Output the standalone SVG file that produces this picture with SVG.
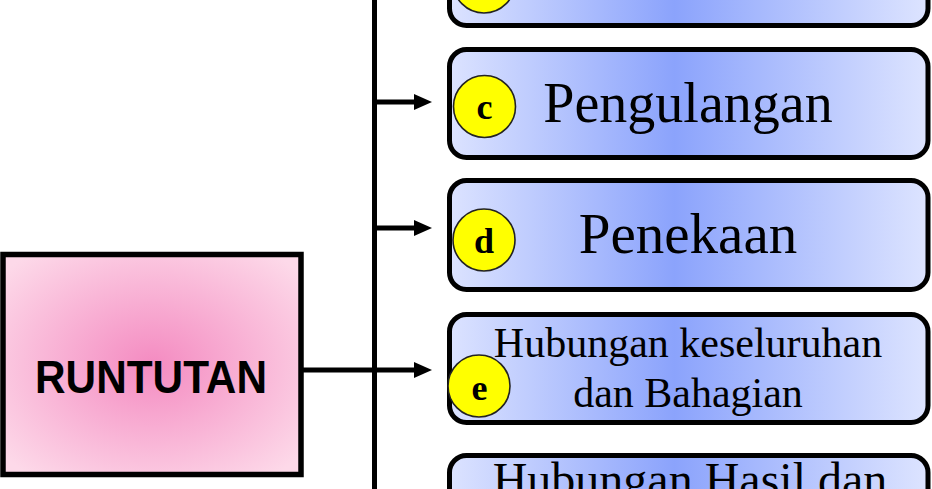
<svg xmlns="http://www.w3.org/2000/svg" width="932" height="489" viewBox="0 0 932 489">
  <defs>
    <linearGradient id="blueGrad" x1="0" y1="0" x2="1" y2="0">
      <stop offset="0" stop-color="#dce3ff"/>
      <stop offset="0.47" stop-color="#8ba3fc"/>
      <stop offset="1" stop-color="#dde4ff"/>
    </linearGradient>
    <radialGradient id="pinkGrad" cx="0.5" cy="0.5" r="0.65">
      <stop offset="0" stop-color="#f48bc1"/>
      <stop offset="1" stop-color="#fdd9e9"/>
    </radialGradient>
    <marker id="arrow" markerUnits="userSpaceOnUse" markerWidth="20" markerHeight="18" refX="6" refY="8" orient="auto">
      <path d="M0,0 L18,8 L0,16 Z" fill="#000"/>
    </marker>
  </defs>
  <style>
    .box { fill: url(#blueGrad); stroke: #000; stroke-width: 5; }
    .badge { fill: #ffff00; stroke: #222; stroke-width: 1.6; }
    .badgeText { font-family: "Liberation Serif", "DejaVu Serif", serif; font-weight: bold; font-size: 36px; text-anchor: middle; fill: #000; }
    .label { font-family: "Liberation Serif", "DejaVu Serif", serif; text-anchor: middle; fill: #000; }
    .conn { stroke: #000; stroke-width: 5; fill: none; }
  </style>
  <rect width="932" height="489" fill="#ffffff"/>

  <g id="connectors">
    <line class="conn" x1="374.5" y1="0" x2="374.5" y2="489"/>
    <line class="conn" x1="374.5" y1="102" x2="420" y2="102" marker-end="url(#arrow)"/>
    <line class="conn" x1="374.5" y1="228" x2="420" y2="228" marker-end="url(#arrow)"/>
    <line class="conn" x1="303" y1="370" x2="420" y2="370" marker-end="url(#arrow)"/>
  </g>

  <g id="node-runtutan">
    <rect x="3" y="254.5" width="298" height="220" fill="url(#pinkGrad)" stroke="#000" stroke-width="5.5"/>
    <text x="151" y="393" font-family="Liberation Sans, Arial, sans-serif" font-weight="bold" font-size="46" text-anchor="middle" textLength="232" lengthAdjust="spacingAndGlyphs">RUNTUTAN</text>
  </g>

  <g id="node-b">
    <rect class="box" x="449.5" y="-82.5" width="478.5" height="108" rx="17" ry="17"/>
    <circle class="badge" cx="484" cy="-18" r="31"/>
  </g>

  <g id="node-c">
    <rect class="box" x="449.5" y="49.5" width="478.5" height="108" rx="17" ry="17"/>
    <circle class="badge" cx="484.5" cy="106.5" r="31"/>
    <text class="badgeText" x="484.5" y="119">c</text>
    <text class="label" x="688" y="122" font-size="56">Pengulangan</text>
  </g>

  <g id="node-d">
    <rect class="box" x="449.5" y="180.5" width="478.5" height="109" rx="17" ry="17"/>
    <circle class="badge" cx="484" cy="240" r="31"/>
    <text class="badgeText" x="484" y="253">d</text>
    <text class="label" x="688" y="253" font-size="57">Penekaan</text>
  </g>

  <g id="node-e">
    <rect class="box" x="449.5" y="314.5" width="478.5" height="108" rx="17" ry="17"/>
    <circle class="badge" cx="479" cy="386" r="31"/>
    <text class="badgeText" x="479.5" y="400">e</text>
    <text class="label" x="688" y="357" font-size="42">Hubungan keseluruhan</text>
    <text class="label" x="688" y="407" font-size="42">dan Bahagian</text>
  </g>

  <g id="node-f">
    <rect class="box" x="449.5" y="455.5" width="478.5" height="108" rx="17" ry="17"/>
    <text class="label" x="690" y="496" font-size="48">Hubungan Hasil dan</text>
  </g>
</svg>
